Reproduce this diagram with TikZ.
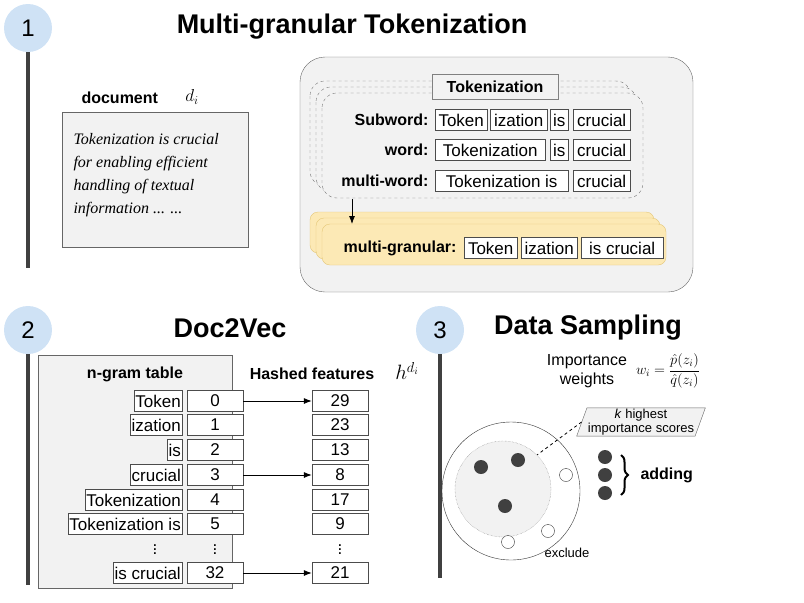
\documentclass[tikz,border=0pt]{standalone}
\usepackage{fontspec}
\setmainfont{Liberation Sans}
\newfontfamily\docfont{Liberation Serif}
\usetikzlibrary{arrows.meta,shapes.geometric,decorations.pathreplacing,positioning}
\definecolor{stepblue}{HTML}{CFE2F5}
\definecolor{panelgray}{HTML}{F2F2F2}
\definecolor{granfill}{HTML}{FCE9B5}
\definecolor{grandraw}{HTML}{E5C777}
\tikzset{
  stepnum/.style={circle, fill=stepblue, minimum size=48pt, inner sep=0pt, font=\fontsize{24}{24}\selectfont},
  stepline/.style={line width=3.5pt, draw=black!75},
  title/.style={font=\fontsize{27}{30}\selectfont\bfseries},
  tok/.style={draw=black!70, fill=white, minimum height=21pt, inner sep=1pt, font=\fontsize{17}{17}\selectfont},
  lbl/.style={font=\fontsize{16}{16}\selectfont\bfseries},
  dot/.style={circle, fill=black!75, minimum size=14pt, inner sep=0pt},
  hole/.style={circle, draw=black!80, fill=white, minimum size=13pt, inner sep=0pt},
}
\begin{document}
\begin{tikzpicture}[x=1pt, y=-1pt]
\useasboundingbox (0,0) rectangle (804,603);

%% step 1
\node[stepnum] (s1) at (28,28) {1};
\draw[stepline] (s1.south) -- (28,268);
\node[title] (t1) at (352,27) {Multi-granular Tokenization};

\node[lbl, anchor=west] (doclbl) at (78,98) {document};
\node (di) at (192,97) {\fontsize{17}{17}\selectfont $d_i$};
\node[draw=black!60, fill=panelgray, minimum width=186pt, minimum height=135pt, anchor=north west] (doc) at (62,112) {};
\node[anchor=north west, align=left, font=\docfont\itshape\fontsize{16}{23}\selectfont] (doctext) at (70,130)
  {Tokenization is crucial\\for enabling efficient\\handling of textual\\information ... ...};

\draw[draw=black!60, fill=panelgray, rounded corners=25pt] (300,57) rectangle (693,292);
% stacked dashed boxes
\foreach \o in {0,6,12}
  \draw[dashed, draw=black!55, fill=panelgray, rounded corners=15pt] (310+\o,81+\o) rectangle (631+\o,186+\o);
\node[draw=black!50, fill=panelgray, minimum width=126pt, minimum height=25pt, font=\fontsize{16}{16}\selectfont\bfseries] (toklbl) at (495,87) {Tokenization};

\node[lbl, anchor=east] (rsub) at (432,120) {Subword:};
\node[tok, anchor=west, minimum width=52pt] (a1) at (435,120) {Token};
\node[tok, anchor=west, minimum width=57pt] (a2) at (490,120) {ization};
\node[tok, anchor=west, minimum width=18pt] (a3) at (550,120) {is};
\node[tok, anchor=west, minimum width=57pt] (a4) at (573,120) {crucial};

\node[lbl, anchor=east] (rword) at (432,150) {word:};
\node[tok, anchor=west, minimum width=110pt] (b1) at (435,150) {Tokenization};
\node[tok, anchor=west, minimum width=18pt] (b2) at (550,150) {is};
\node[tok, anchor=west, minimum width=57pt] (b3) at (573,150) {crucial};

\node[lbl, anchor=east] (rmulti) at (432,181) {multi-word:};
\node[tok, anchor=west, minimum width=133pt] (c1) at (435,181) {Tokenization is};
\node[tok, anchor=west, minimum width=57pt] (c2) at (573,181) {crucial};

% stacked multi-granular boxes
\foreach \o in {0,6,12}
  \draw[draw=grandraw, fill=granfill, rounded corners=8pt] (310+\o,212+\o) rectangle (654+\o,253+\o);
\coordinate (dashbot) at (352,199);
\coordinate (gantop) at (352,224);
\draw[-{Latex[length=8pt]}, thick] (dashbot) -- (gantop);
\node[lbl, anchor=east] (rgran) at (460,248) {multi-granular:};
\node[tok, anchor=west, minimum width=53pt] (m1) at (464,248) {Token};
\node[tok, anchor=west, minimum width=56pt] (m2) at (521,248) {ization};
\node[tok, anchor=west, minimum width=82pt] (m3) at (581,248) {is crucial};

%% step 2
\node[stepnum] (s2) at (28,330) {2};
\draw[stepline] (s2.south) -- (28,585);
\node[title] (t2) at (230,328) {Doc2Vec};
\draw[draw=black!60, fill=panelgray] (38,355) rectangle (232,588);
\node[lbl] (ngram) at (135,374) {n-gram table};
\node[lbl] (hashed) at (312,374) {Hashed features};
\node (hdi) at (407,371) {\fontsize{20}{20}\selectfont $h^{d_i}$};

\foreach \y/\w/\n/\h [count=\i] in {401/Token/0/29, 425/ization/1/23, 450/is/2/13, 475/crucial/3/8,
    500/Tokenization/4/17, 524/Tokenization is/5/9, 573/is crucial/32/21} {
  \node[tok, anchor=east] (g\i) at (182,\y) {\w};
  \node[tok, minimum width=56pt] (n\i) at (215,\y) {\n};
  \node[tok, minimum width=56pt] (h\i) at (340,\y) {\h};
}
\foreach \i in {1,4,7}
  \draw[-{Latex[length=8pt]}, thick] (n\i.east) -- (h\i.west);
\foreach \x [count=\i] in {155,215,340}
  \node[font=\fontsize{17}{17}\selectfont] (vd\i) at (\x,547) {$\vdots$};

%% step 3
\node[stepnum] (s3) at (440,330) {3};
\draw[stepline] (s3.south) -- (440,578);
\node[title] (t3) at (588,328) {Data Sampling};
\node[align=center, font=\fontsize{16}{19}\selectfont] (impw) at (587,371) {Importance\\weights};
\node (wform) at (668,371) {\fontsize{14}{14}\selectfont $\displaystyle w_i=\frac{\hat p(z_i)}{\hat q(z_i)}$};

\node[circle, draw=black!80, fill=white, minimum size=138pt] (pool) at (511,491) {};
\node[circle, densely dotted, draw=black!50, fill=panelgray, minimum size=96pt] (topk) at (503,489) {};
\node[dot] (d1) at (481,467) {};
\node[dot] (d2) at (518,460) {};
\node[dot] (d3) at (505,506) {};
\node[hole] (e1) at (566,475) {};
\node[hole] (e2) at (548,531) {};
\node[hole] (e3) at (508,542) {};
\node[font=\fontsize{13}{13}\selectfont] (excl) at (567,553) {exclude};

\node[trapezium, trapezium left angle=70, trapezium right angle=110, draw=black!60, fill=panelgray,
  align=center, inner sep=1pt, font=\fontsize{13}{14}\selectfont] (kbox) at (641,422)
  {\textit{k} highest\\importance scores};
\draw[dashed, thick] (kbox.west) -- (topk.north east);

\node[dot] (o1) at (605,457) {};
\node[dot] (o2) at (605,475) {};
\node[dot] (o3) at (605,493) {};
\draw[decorate, decoration={brace, amplitude=7pt}, line width=2pt] (621,455) -- (621,495);
\node[lbl, anchor=west] (adding) at (637,475) {adding};
\end{tikzpicture}
\end{document}
